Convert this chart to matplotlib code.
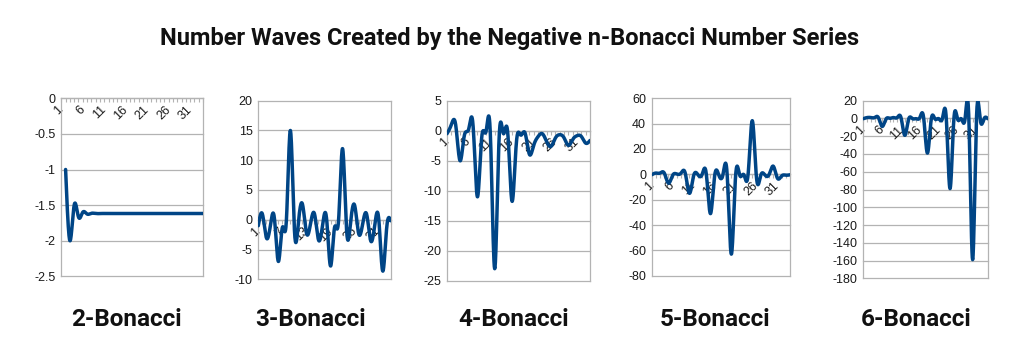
import numpy as np
import matplotlib
matplotlib.use("Agg")
import matplotlib.pyplot as plt

nan = float("nan")

categories = list(range(1, 35))

bon2 = [nan, -1, -2, -1.5, -1.667, -1.6, -1.625, -1.615, -1.619, -1.618,
        -1.618, -1.618, -1.618, -1.618, -1.618, -1.618, -1.618, -1.618,
        -1.618, -1.618, -1.618, -1.618, -1.618, -1.618, -1.618, -1.618,
        -1.618, -1.618, -1.618, -1.618, -1.618, -1.618, -1.618, -1.618]
bon3 = [-1, 1, -3, -1, 0.333, -7, -1.286, -0.111, 15, -1.667, -0.44, 2.636,
        -2.241, -0.723, 1, -3.383, -1, 0.296, -7.766, -1.307, -0.136, 11.95,
        -1.698, -0.46, 2.453, -2.293, -0.742, 0.936, -3.509, -1.019, 0.26,
        -8.605, -1.33, -0.161]
bon4 = [-0.5, 1, 1, -5, -0.8, 0.25, 1, -11, -1.182, -0.154, -0.5, -23,
        -1.609, -0.459, -0.235, -11.75, -2.064, -0.732, -0.352, -3.92,
        -2.459, -0.992, -0.506, -1.826, -2.624, -1.24, -0.669, -1.17,
        -2.453, -1.461, -0.833, -0.956, -2.069, -1.629]
bon5 = [-0.333, 1, 1, 1, -7, -0.714, 0.2, 1, 1, -15, -1.133, -0.176, -0.333,
        1, -31, -1.581, -0.469, -0.217, 0.2, -63, -2.048, -0.736, -0.347,
        -0.091, 42.33, -2.528, -0.994, -0.505, -0.242, 6.436, -3.064, -1.247,
        -0.668, -0.373]
bon6 = [-0.25, 1, 1, 1, 1, -9, -0.667, 0.167, 1, 1, 1, -19, -1.105, -0.19,
        -0.25, 1, 1, -39, -1.564, -0.475, -0.207, 0.167, 1, -79, -2.038,
        -0.739, -0.345, -0.098, -0.25, -159, -2.522, -0.995, -0.504, -0.244]

panel_titles = ["2-Bonacci", "3-Bonacci", "4-Bonacci", "5-Bonacci", "6-Bonacci"]
x_labels_a = [1, 6, 11, 16, 21, 26, 31]
x_labels_b = [1, 7, 13, 19, 25, 31]
main_title = "Number Waves Created by the Negative n-Bonacci Number Series"

series = [bon2, bon3, bon4, bon5, bon6]
ylims = [(-2.5, 0), (-10, 20), (-25, 5), (-80, 60), (-180, 20)]
ysteps = [0.5, 5, 5, 20, 20]
xlabel_sets = [x_labels_a, x_labels_b, x_labels_a, x_labels_a, x_labels_a]

# pixel boxes (left, right, top, bottom)
boxes = [(61.3, 203.0, 98.3, 276.3),
         (258.3, 390.7, 100.7, 279.3),
         (447.0, 590.0, 100.7, 280.7),
         (651.7, 790.0, 98.3, 275.7),
         (863.3, 987.7, 100.7, 278.3)]
title_x = [126, 311, 514, 715, 916]

W, H = 1024, 362
LINE = "#004586"
GRID = "#b3b3b3"
TXT = "#1a1a1a"


def smooth(x, y, res=24):
    """Natural cubic spline through the data points (like a 'smooth' line)."""
    x = np.asarray(x, float)
    y = np.asarray(y, float)
    m = ~np.isnan(y)
    x, y = x[m], y[m]
    n = len(x)
    h = np.diff(x)
    A = np.zeros((n, n))
    r = np.zeros(n)
    A[0, 0] = A[-1, -1] = 1
    for i in range(1, n - 1):
        A[i, i - 1] = h[i - 1]
        A[i, i] = 2 * (h[i - 1] + h[i])
        A[i, i + 1] = h[i]
        r[i] = 6 * ((y[i + 1] - y[i]) / h[i] - (y[i] - y[i - 1]) / h[i - 1])
    M = np.linalg.solve(A, r)
    xs, ys = [], []
    for i in range(n - 1):
        t = np.linspace(x[i], x[i + 1], res, endpoint=(i == n - 2))
        a = x[i + 1] - t
        b = t - x[i]
        s = (M[i] * a ** 3 / (6 * h[i]) + M[i + 1] * b ** 3 / (6 * h[i])
             + (y[i] / h[i] - M[i] * h[i] / 6) * a
             + (y[i + 1] / h[i] - M[i + 1] * h[i] / 6) * b)
        xs.append(t)
        ys.append(s)
    return np.concatenate(xs), np.concatenate(ys)


def fmt(v):
    return f"{v:g}"


fig = plt.figure(figsize=(W / 100, H / 100), dpi=100)

for k in range(5):
    l, r_, t, b = boxes[k]
    ax = fig.add_axes([l / W, 1 - b / H, (r_ - l) / W, (b - t) / H])
    lo, hi = ylims[k]
    ax.set_ylim(lo, hi)
    ax.set_xlim(categories[0], categories[-1])
    yt = np.arange(lo, hi + ysteps[k] / 2, ysteps[k])
    ax.set_yticks(yt)
    ax.set_yticklabels([fmt(v) for v in yt])
    for v in yt:
        ax.axhline(v, color=GRID, lw=0.9, zorder=0.5, clip_on=False)
    ax.set_xticks(categories, minor=True)
    ax.set_xticks(xlabel_sets[k])
    ax.set_xticklabels([str(v) for v in xlabel_sets[k]])
    ax.tick_params(axis="x", which="both", direction="out", length=3,
                   width=0.8, color=GRID, labelsize=9, labelcolor=TXT, pad=4,
                   labelrotation=45)
    ax.tick_params(axis="y", which="both", length=0, labelsize=9,
                   labelcolor=TXT, pad=4)
    for side in ["left", "right"]:
        ax.spines[side].set_color(GRID)
        ax.spines[side].set_linewidth(0.9)
    ax.spines["top"].set_visible(False)
    ax.spines["bottom"].set_position(("data", 0))
    ax.spines["bottom"].set_color(GRID)
    ax.spines["bottom"].set_linewidth(0.9)
    for lab in ax.get_xticklabels():
        lab.set_rotation(45)
        lab.set_ha("right")
        lab.set_va("center")
        lab.set_rotation_mode("anchor")
        lab.set_fontfamily("Liberation Sans")
    for lab in ax.get_yticklabels():
        lab.set_fontfamily("Liberation Sans")
    xs, ys = smooth(categories, series[k])
    ax.plot(xs, ys, color=LINE, lw=2.5, solid_capstyle="round",
            solid_joinstyle="round", zorder=3)
    fig.text(title_x[k] / W, 1 - 319 / H, panel_titles[k], ha="center",
             va="center", fontsize=17.5, fontweight="bold", family="Roboto",
             color="#111111")

fig.text(510 / W, 1 - 38 / H, main_title, ha="center", va="center",
         fontsize=17, fontweight="bold", family="Roboto", color="#111111")

fig.savefig("out.png", dpi=100, facecolor="white")
